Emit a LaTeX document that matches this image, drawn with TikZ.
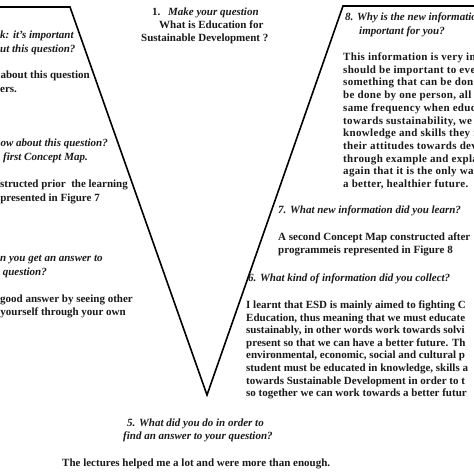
\documentclass[tikz,border=0pt]{standalone}
\usepackage{fontspec}
\setmainfont{Liberation Serif}
\newfontfamily\spreadfont[LetterSpace=3]{Liberation Serif}
\begin{document}
\begin{tikzpicture}[x=1pt,y=-1pt,
  txt/.style={inner sep=0pt, font=\fontsize{11}{12.7}\selectfont\bfseries, text=black!90},
  wtxt/.style={txt, font=\fontsize{11}{12.7}\spreadfont\bfseries},
  qst/.style={txt, font=\fontsize{11}{12.7}\selectfont\bfseries\itshape},
  vline/.style={draw=black, line width=1.6pt, line join=miter}]
\useasboundingbox (0,0) rectangle (474,474);
\clip (0,0) rectangle (474,474);
% V shape
\coordinate (tl0) at (0,7);
\coordinate (tl1) at (70,7);
\coordinate (vb) at (207,395);
\coordinate (tr1) at (343,6);
\coordinate (tr0) at (474,6);
\draw[vline] (tl0) -- (tl1) -- (vb) -- (tr1) -- (tr0);
% left column
\node[qst, anchor=base west] (l1) at (0,38.5) {k: it's important};
\node[qst, anchor=base west] (l2) at (0,52.5) {ut this question?};
\node[txt, anchor=base east] (l3) at (90,78.5) {about this question};
\node[txt, anchor=base west] (l4) at (0,92.5) {ers.};
\node[qst, anchor=base east] (l5) at (108,146.5) {ow about this question?};
\node[qst, anchor=base east] (l6) at (88,160.5) {first Concept Map.};
\node[txt, anchor=base east] (l7) at (128,187.5) {structed prior \ the learning};
\node[txt, anchor=base east] (l8) at (100,201.5) {presented in Figure 7};
\node[qst, anchor=base west] (l9) at (0,261.5) {n you get an answer to};
\node[qst, anchor=base east] (l10) at (47,275.5) {question?};
\node[txt, anchor=base east] (l11) at (133,302.5) {good answer by seeing other};
\node[txt, anchor=base east] (l12) at (126,315.5) {yourself through your own};
% top centre
\node[txt, anchor=base west] (c0) at (152,15.5) {1.};
\node[qst, anchor=base west] (c1) at (168,15.5) {Make your question};
\node[txt, anchor=base west] (c2) at (159,28.5) {What is Education for};
\node[txt, anchor=base west] (c3) at (141,41.5) {Sustainable Development ?};
% right column
\node[qst, anchor=base west] (r1) at (345,20.5) {8. Why is the new informatio};
\node[qst, anchor=base west] (r2) at (359,34) {important for you?};
\node[wtxt, anchor=base west] (p1) at (343,60.5) {This information is very imp};
\node[wtxt, anchor=base west] (p2) at (343,73.2) {should be important to ever};
\node[wtxt, anchor=base west] (p3) at (343,85.9) {something that can be done};
\node[wtxt, anchor=base west] (p4) at (343,98.6) {be done by one person, all t};
\node[wtxt, anchor=base west] (p5) at (343,111.3) {same frequency when educa};
\node[wtxt, anchor=base west] (p6) at (343,124) {towards sustainability, we m};
\node[wtxt, anchor=base west] (p7) at (343,136.7) {knowledge and skills they n};
\node[wtxt, anchor=base west] (p8) at (343,149.4) {their attitudes towards deve};
\node[wtxt, anchor=base west] (p9) at (343,162.1) {through example and explan};
\node[wtxt, anchor=base west] (p10) at (343,174.8) {again that it is the only way};
\node[wtxt, anchor=base west] (p11) at (343,187.5) {a better, healthier future.};
\node[qst, anchor=base west] (r7) at (278,213.5) {7. What new information did you learn?};
\node[txt, anchor=base west] (r7a) at (278,240.5) {A second Concept Map constructed after};
\node[txt, anchor=base west] (r7b) at (278,253.5) {programmeis represented in Figure 8};
\node[qst, anchor=base west] (r6) at (248,281.5) {6. What kind of information did you collect?};
\node[txt, anchor=base west] (s1) at (246,308.5) {I learnt that ESD is mainly aimed to fighting C};
\node[txt, anchor=base west] (s2) at (246,321.1) {Education, thus meaning that we must educate};
\node[txt, anchor=base west] (s3) at (246,333.7) {sustainably, in other words work towards solvi};
\node[txt, anchor=base west] (s4) at (246,346.3) {present so that we can have a better future. Th};
\node[txt, anchor=base west] (s5) at (246,358.9) {environmental, economic, social and cultural p};
\node[txt, anchor=base west] (s6) at (246,371.5) {student must be educated in knowledge, skills a};
\node[txt, anchor=base west] (s7) at (246,384.1) {towards Sustainable Development in order to t};
\node[txt, anchor=base west] (s8) at (246,396.7) {so together we can work towards a better futur};
% bottom
\node[qst, anchor=base west] (b1) at (127,426.5) {5. What did you do in order to};
\node[qst, anchor=base west] (b2) at (123,439.5) {find an answer to your question?};
\node[txt, anchor=base west] (b3) at (62,466.5) {The lectures helped me a lot and were more than enough.};
\end{tikzpicture}
\end{document}
